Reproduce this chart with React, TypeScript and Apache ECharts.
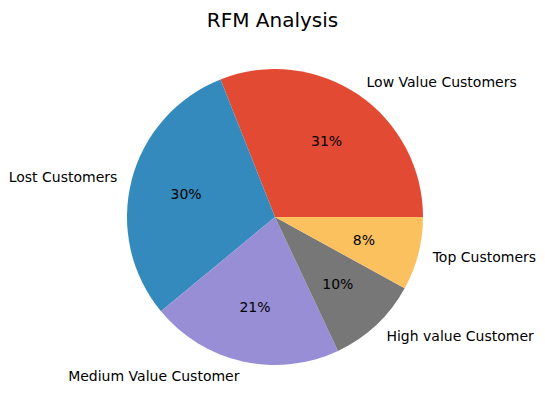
import { useEffect, useRef } from 'react'
import * as echarts from 'echarts'

const segments = ['Low Value Customers', 'Lost Customers', 'Medium Value Customer', 'High value Customer', 'Top Customers']
const shares = [31, 30, 21, 10, 8]
const colors = ['#E24A33', '#348ABD', '#988ED5', '#777777', '#FBC15E']

const FONT = 'DejaVu Sans, sans-serif'
const CX = 275
const CY = 217
const R = 148

export default function App() {
  const chartRef = useRef<HTMLDivElement | null>(null)

  useEffect(() => {
    document.body.style.margin = '0'
    if (!chartRef.current) {
      return
    }

    const chart = echarts.init(chartRef.current, null, { renderer: 'svg' })
    const data = segments.map((name, i) => ({
      name,
      value: shares[i],
      itemStyle: { color: colors[i] },
    }))

    chart.setOption({
      animation: false,
      backgroundColor: '#ffffff',
      title: {
        text: 'RFM Analysis',
        left: 'center',
        top: 5,
        textStyle: { fontFamily: FONT, fontSize: 20, fontWeight: 'normal', color: '#000' },
      },
      series: [
        {
          type: 'pie',
          center: [CX, CY],
          radius: [0, R],
          startAngle: 0,
          clockwise: false,
          silent: true,
          data,
          label: {
            show: true,
            position: 'outside',
            fontFamily: FONT,
            fontSize: 14,
            color: '#000',
            overflow: 'none',
            distanceToLabelLine: 0,
          },
          labelLine: { show: false, length: R * 0.1, length2: 0 },
          emphasis: { disabled: true },
        },
        {
          // transparent copy, only to place the percentages at 0.6 of the radius
          type: 'pie',
          center: [CX, CY],
          radius: [0, R * 1.2],
          startAngle: 0,
          clockwise: false,
          silent: true,
          z: 5,
          data: data.map((d) => ({ ...d, itemStyle: { color: 'rgba(0,0,0,0)' } })),
          label: {
            show: true,
            position: 'inside',
            fontFamily: FONT,
            fontSize: 14,
            color: '#000',
            formatter: (p: any) => Math.round(p.percent) + '%',
          },
          labelLine: { show: false },
          emphasis: { disabled: true },
        },
      ],
    })

    return () => {
      chart.dispose()
    }
  }, [])

  return <div ref={chartRef} style={{ width: 545, height: 412 }} />
}
